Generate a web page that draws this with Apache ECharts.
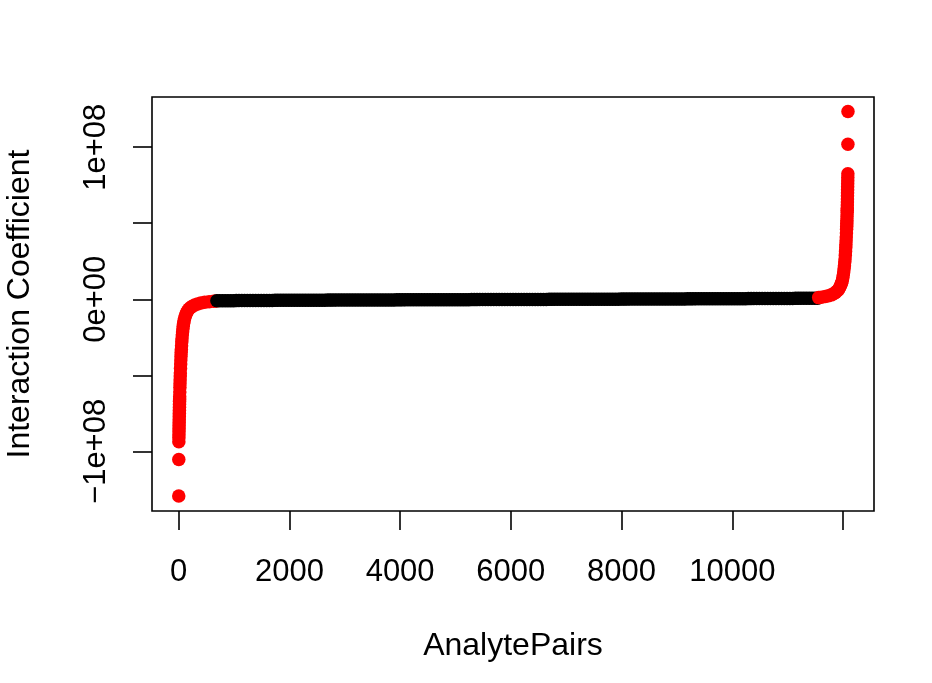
<!DOCTYPE html>
<html>
<head>
<meta charset="utf-8">
<script src="https://cdn.jsdelivr.net/npm/echarts@6/dist/echarts.min.js"></script>
<style>
html,body{margin:0;padding:0;background:#fff;}
#chart{width:932px;height:683px;}
</style>
</head>
<body>
<div id="chart"></div>
<script>
// ---- data (index of analyte pair after sorting, interaction coefficient) ----
const leftTailIndex = [1,2,3,4,5,6,7,8,9,10,11,12,13,14,15,16,17,18,20,22,24,26,28,30,33,36,39,42,45,48,52,56,60,65,70,76,82,90,100,112,125,140,160,185,215,250,290,340,400,470,550,630,680];
const leftTailValue = [-1.293e8,-1.053e8,-9.37e7,-9.1e7,-8.9e7,-8.7e7,-8.5e7,-8.3e7,-8.1e7,-7.9e7,-7.7e7,-7.5e7,-7.3e7,-7.1e7,-6.9e7,-6.7e7,-6.55e7,-6.4e7,-6.1e7,-5.8e7,-5.55e7,-5.3e7,-5.05e7,-4.85e7,-4.55e7,-4.25e7,-4.0e7,-3.75e7,-3.5e7,-3.3e7,-3.05e7,-2.8e7,-2.6e7,-2.35e7,-2.15e7,-1.95e7,-1.78e7,-1.58e7,-1.38e7,-1.2e7,-1.04e7,-9.0e6,-7.7e6,-6.4e6,-5.4e6,-4.5e6,-3.8e6,-3.1e6,-2.5e6,-2.0e6,-1.6e6,-1.3e6,-1.1e6];

const middleIndex = [690,740,790,840,890,940,990,1040,1090,1140,1190,1240,1290,1340,1390,1440,1490,1540,1590,1640,1690,1740,1790,1840,1890,1940,1990,2040,2090,2140,2190,2240,2290,2340,2390,2440,2490,2540,2590,2640,2690,2740,2790,2840,2890,2940,2990,3040,3090,3140,3190,3240,3290,3340,3390,3440,3490,3540,3590,3640,3690,3740,3790,3840,3890,3940,3990,4040,4090,4140,4190,4240,4290,4340,4390,4440,4490,4540,4590,4640,4690,4740,4790,4840,4890,4940,4990,5040,5090,5140,5190,5240,5290,5340,5390,5440,5490,5540,5590,5640,5690,5740,5790,5840,5890,5940,5990,6040,6090,6140,6190,6240,6290,6340,6390,6440,6490,6540,6590,6640,6690,6740,6790,6840,6890,6940,6990,7040,7090,7140,7190,7240,7290,7340,7390,7440,7490,7540,7590,7640,7690,7740,7790,7840,7890,7940,7990,8040,8090,8140,8190,8240,8290,8340,8390,8440,8490,8540,8590,8640,8690,8740,8790,8840,8890,8940,8990,9040,9090,9140,9190,9240,9290,9340,9390,9440,9490,9540,9590,9640,9690,9740,9790,9840,9890,9940,9990,10040,10090,10140,10190,10240,10290,10340,10390,10440,10490,10540,10590,10640,10690,10740,10790,10840,10890,10940,10990,11040,11090,11140,11190,11240,11290,11340,11390,11440,11490,11540];
const middleValue = [-1.0e6,-0.98e6,-0.96e6,-0.94e6,-0.92e6,-0.9e6,-0.89e6,-0.87e6,-0.86e6,-0.84e6,-0.83e6,-0.81e6,-0.8e6,-0.79e6,-0.78e6,-0.77e6,-0.76e6,-0.75e6,-0.74e6,-0.73e6,-0.72e6,-0.71e6,-0.7e6,-0.69e6,-0.68e6,-0.67e6,-0.66e6,-0.65e6,-0.64e6,-0.635e6,-0.63e6,-0.62e6,-0.61e6,-0.605e6,-0.6e6,-0.59e6,-0.58e6,-0.575e6,-0.57e6,-0.56e6,-0.55e6,-0.545e6,-0.54e6,-0.53e6,-0.52e6,-0.515e6,-0.51e6,-0.505e6,-0.5e6,-0.49e6,-0.48e6,-0.475e6,-0.47e6,-0.465e6,-0.46e6,-0.45e6,-0.44e6,-0.435e6,-0.43e6,-0.425e6,-0.42e6,-0.415e6,-0.41e6,-0.4e6,-0.39e6,-0.385e6,-0.38e6,-0.375e6,-0.37e6,-0.365e6,-0.36e6,-0.35e6,-0.34e6,-0.335e6,-0.33e6,-0.325e6,-0.32e6,-0.315e6,-0.31e6,-0.305e6,-0.3e6,-0.29e6,-0.28e6,-0.275e6,-0.27e6,-0.265e6,-0.26e6,-0.255e6,-0.25e6,-0.245e6,-0.24e6,-0.23e6,-0.22e6,-0.215e6,-0.21e6,-0.205e6,-0.2e6,-0.195e6,-0.19e6,-0.185e6,-0.18e6,-0.17e6,-0.16e6,-0.155e6,-0.15e6,-0.145e6,-0.14e6,-0.135e6,-0.13e6,-0.125e6,-0.12e6,-0.11e6,-0.1e6,-0.095e6,-0.09e6,-0.085e6,-0.08e6,-0.075e6,-0.07e6,-0.06e6,-0.05e6,-0.045e6,-0.04e6,-0.035e6,-0.03e6,-0.025e6,-0.02e6,-0.01e6,0,0.005e6,0.01e6,0.015e6,0.02e6,0.025e6,0.03e6,0.04e6,0.05e6,0.055e6,0.06e6,0.065e6,0.07e6,0.075e6,0.08e6,0.09e6,0.1e6,0.105e6,0.11e6,0.115e6,0.12e6,0.125e6,0.13e6,0.14e6,0.15e6,0.155e6,0.16e6,0.165e6,0.17e6,0.18e6,0.19e6,0.195e6,0.2e6,0.205e6,0.21e6,0.22e6,0.23e6,0.235e6,0.24e6,0.245e6,0.25e6,0.26e6,0.27e6,0.275e6,0.28e6,0.29e6,0.3e6,0.305e6,0.31e6,0.32e6,0.33e6,0.335e6,0.34e6,0.35e6,0.36e6,0.365e6,0.37e6,0.38e6,0.39e6,0.395e6,0.4e6,0.41e6,0.42e6,0.43e6,0.44e6,0.445e6,0.45e6,0.46e6,0.47e6,0.48e6,0.49e6,0.5e6,0.51e6,0.52e6,0.53e6,0.54e6,0.55e6,0.56e6,0.57e6,0.58e6,0.59e6,0.6e6,0.61e6,0.62e6,0.63e6,0.64e6,0.65e6,0.665e6,0.68e6,0.72e6];

const rightTailIndex = [11560,11610,11680,11740,11790,11830,11865,11895,11920,11940,11957,11972,11985,11996,12005,12013,12020,12026,12032,12037,12042,12046,12050,12053,12056,12059,12062,12065,12067,12069,12071,12073,12075,12076,12077,12078,12079,12080,12081,12082,12083,12084,12085,12086,12087,12088,12089,12090];
const rightTailValue = [1.1e6,1.4e6,1.8e6,2.3e6,2.9e6,3.6e6,4.4e6,5.4e6,6.5e6,7.7e6,9.0e6,1.05e7,1.2e7,1.4e7,1.6e7,1.8e7,2.0e7,2.2e7,2.45e7,2.65e7,2.9e7,3.15e7,3.4e7,3.6e7,3.85e7,4.1e7,4.35e7,4.6e7,4.8e7,5.0e7,5.2e7,5.45e7,5.7e7,5.85e7,6.0e7,6.2e7,6.4e7,6.6e7,6.8e7,7.0e7,7.2e7,7.4e7,7.6e7,7.8e7,8.0e7,8.25e7,1.02e8,1.235e8];

// ---- ticks ----
const xTickValues = [0,2000,4000,6000,8000,10000,12000];
const xLabelValues = [0,2000,4000,6000,8000,10000];
const yTickValues = [-1e8,-5e7,0,5e7,1e8];
const yLabelValues = [-1e8,0,1e8];
const yLabelTexts = ['\u22121e+08','0e+00','1e+08'];

const xTitle = 'AnalytePairs';
const yTitle = 'Interaction Coefficient';

function zip(a,b){ return a.map((v,i)=>[v,b[i]]); }

const FONT = '"Liberation Sans", Arial, Helvetica, sans-serif';
const chart = echarts.init(document.getElementById('chart'), null, {renderer:'canvas'});
const dot = 13.5;

chart.setOption({
  animation:false,
  backgroundColor:'#ffffff',
  grid:{left:152, top:97, right:58, bottom:172, show:true, borderColor:'#000', borderWidth:1.6, backgroundColor:'transparent'},
  xAxis:{
    type:'value', min:-482, max:12560, position:'bottom',
    axisLine:{show:false, onZero:false},
    splitLine:{show:false},
    axisTick:{show:true, inside:false, length:19, customValues:xTickValues, lineStyle:{color:'#000', width:1.6}},
    axisLabel:{show:true, customValues:xLabelValues, margin:46, fontSize:31, color:'#000', fontFamily:FONT,
      formatter:(v)=>String(v)}
  },
  yAxis:{
    type:'value', min:-1.392e8, max:1.330e8, position:'left',
    axisLine:{show:false, onZero:false},
    splitLine:{show:false},
    axisTick:{show:true, inside:false, length:19, customValues:yTickValues, lineStyle:{color:'#000', width:1.6}},
    axisLabel:{show:true, customValues:yLabelValues, rotate:90, margin:40, fontSize:31, color:'#000', fontFamily:FONT,
      formatter:(v)=>{ const i = yLabelValues.indexOf(v); return i>=0 ? yLabelTexts[i] : ''; }}
  },
  graphic:[
    {type:'text', x:513, y:646, silent:true,
      style:{text:xTitle, font:'32px '+FONT, fill:'#000', textAlign:'center', textVerticalAlign:'middle'}},
    {type:'text', x:20, y:304, rotation:Math.PI/2, silent:true,
      style:{text:yTitle, font:'32px '+FONT, fill:'#000', textAlign:'center', textVerticalAlign:'middle'}}
  ],
  series:[
    {type:'scatter', data:zip(leftTailIndex,leftTailValue), symbol:'circle', symbolSize:dot, itemStyle:{color:'#ff0000', opacity:1}, silent:true},
    {type:'scatter', data:zip(middleIndex,middleValue), symbol:'circle', symbolSize:dot, itemStyle:{color:'#000000', opacity:1}, silent:true},
    {type:'scatter', data:zip(rightTailIndex,rightTailValue), symbol:'circle', symbolSize:dot, itemStyle:{color:'#ff0000', opacity:1}, silent:true}
  ]
});
</script>
</body>
</html>
